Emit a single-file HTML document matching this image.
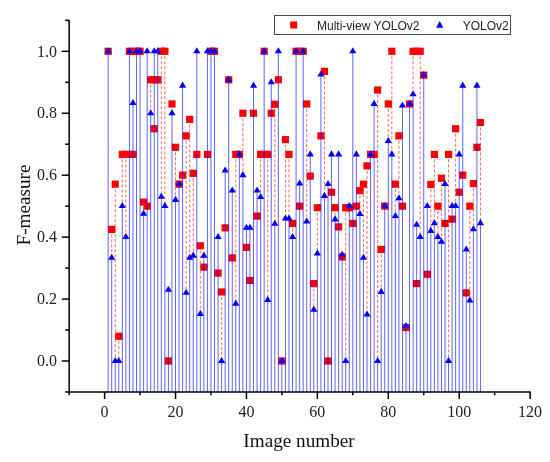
<!DOCTYPE html><html><head><meta charset="utf-8"><title>F-measure</title><style>html,body{margin:0;padding:0;background:#fff}svg{display:block}</style></head><body><svg width="550" height="462" viewBox="0 0 550 462">
<rect width="550" height="462" fill="#fff"/>
<g stroke="#ff0000" stroke-width="0.6" stroke-dasharray="3 2" fill="none">
<path d="M111.69 229.38V257.77"/>
<path d="M115.24 184.16V361.00"/>
<path d="M118.78 336.22V361.00"/>
<path d="M122.33 154.43V206.05"/>
<path d="M125.88 154.43V237.02"/>
<path d="M143.61 202.12V213.79"/>
<path d="M150.70 79.79V113.14"/>
<path d="M161.34 51.30V196.76"/>
<path d="M164.88 51.30V206.05"/>
<path d="M171.97 103.95V113.14"/>
<path d="M175.52 147.31V199.86"/>
<path d="M186.16 135.85V292.77"/>
<path d="M189.70 119.43V257.77"/>
<path d="M193.25 173.32V255.60"/>
<path d="M200.34 245.79V313.83"/>
<path d="M221.62 291.94V361.00"/>
<path d="M235.80 154.43V303.61"/>
<path d="M242.89 113.24V175.08"/>
<path d="M260.62 154.43V197.07"/>
<path d="M267.72 154.43V299.89"/>
<path d="M274.81 104.26V223.70"/>
<path d="M285.45 139.56V218.44"/>
<path d="M288.99 154.43V218.44"/>
<path d="M292.54 223.49V237.02"/>
<path d="M306.72 103.95V221.53"/>
<path d="M313.81 283.57V309.80"/>
<path d="M317.36 207.70V253.43"/>
<path d="M324.45 71.43V195.83"/>
<path d="M335.09 207.70V219.37"/>
<path d="M345.73 207.70V361.00"/>
<path d="M359.91 190.66V213.95"/>
<path d="M363.46 184.16V257.77"/>
<path d="M367.00 165.89V314.44"/>
<path d="M377.64 90.01V361.00"/>
<path d="M381.19 249.51V291.84"/>
<path d="M388.28 103.95V141.01"/>
<path d="M391.83 51.30V154.33"/>
<path d="M395.37 184.16V215.96"/>
<path d="M398.92 135.85V198.31"/>
<path d="M413.10 51.30V94.25"/>
<path d="M420.19 51.30V237.02"/>
<path d="M430.83 184.47V230.83"/>
<path d="M434.38 154.43V223.08"/>
<path d="M437.92 206.15V237.02"/>
<path d="M441.47 178.28V241.67"/>
<path d="M448.56 154.43V361.00"/>
<path d="M455.65 128.73V206.05"/>
<path d="M469.84 206.15V300.51"/>
<path d="M473.38 183.54V229.28"/>
<path d="M480.48 122.53V223.08"/>
</g>
<g fill="#ff0000">
<rect x="104.55" y="47.70" width="7.2" height="7.2"/>
<rect x="108.09" y="225.78" width="7.2" height="7.2"/>
<rect x="111.64" y="180.56" width="7.2" height="7.2"/>
<rect x="115.18" y="332.62" width="7.2" height="7.2"/>
<rect x="118.73" y="150.83" width="7.2" height="7.2"/>
<rect x="122.28" y="150.83" width="7.2" height="7.2"/>
<rect x="125.82" y="47.70" width="7.2" height="7.2"/>
<rect x="129.37" y="150.83" width="7.2" height="7.2"/>
<rect x="132.91" y="47.70" width="7.2" height="7.2"/>
<rect x="136.46" y="47.70" width="7.2" height="7.2"/>
<rect x="140.01" y="198.52" width="7.2" height="7.2"/>
<rect x="143.55" y="202.55" width="7.2" height="7.2"/>
<rect x="147.10" y="76.19" width="7.2" height="7.2"/>
<rect x="150.64" y="125.13" width="7.2" height="7.2"/>
<rect x="154.19" y="76.19" width="7.2" height="7.2"/>
<rect x="157.74" y="47.70" width="7.2" height="7.2"/>
<rect x="161.28" y="47.70" width="7.2" height="7.2"/>
<rect x="164.83" y="357.40" width="7.2" height="7.2"/>
<rect x="168.37" y="100.35" width="7.2" height="7.2"/>
<rect x="171.92" y="143.71" width="7.2" height="7.2"/>
<rect x="175.47" y="180.56" width="7.2" height="7.2"/>
<rect x="179.01" y="171.58" width="7.2" height="7.2"/>
<rect x="182.56" y="132.25" width="7.2" height="7.2"/>
<rect x="186.10" y="115.83" width="7.2" height="7.2"/>
<rect x="189.65" y="169.72" width="7.2" height="7.2"/>
<rect x="193.20" y="150.83" width="7.2" height="7.2"/>
<rect x="196.74" y="242.19" width="7.2" height="7.2"/>
<rect x="200.29" y="263.56" width="7.2" height="7.2"/>
<rect x="203.83" y="150.83" width="7.2" height="7.2"/>
<rect x="207.38" y="47.70" width="7.2" height="7.2"/>
<rect x="210.93" y="47.70" width="7.2" height="7.2"/>
<rect x="214.47" y="269.45" width="7.2" height="7.2"/>
<rect x="218.02" y="288.34" width="7.2" height="7.2"/>
<rect x="221.56" y="224.23" width="7.2" height="7.2"/>
<rect x="225.11" y="76.19" width="7.2" height="7.2"/>
<rect x="228.66" y="254.27" width="7.2" height="7.2"/>
<rect x="232.20" y="150.83" width="7.2" height="7.2"/>
<rect x="235.75" y="150.83" width="7.2" height="7.2"/>
<rect x="239.29" y="109.64" width="7.2" height="7.2"/>
<rect x="242.84" y="243.74" width="7.2" height="7.2"/>
<rect x="246.39" y="276.88" width="7.2" height="7.2"/>
<rect x="249.93" y="109.64" width="7.2" height="7.2"/>
<rect x="253.48" y="212.46" width="7.2" height="7.2"/>
<rect x="257.02" y="150.83" width="7.2" height="7.2"/>
<rect x="260.57" y="47.70" width="7.2" height="7.2"/>
<rect x="264.12" y="150.83" width="7.2" height="7.2"/>
<rect x="267.66" y="109.64" width="7.2" height="7.2"/>
<rect x="271.21" y="100.66" width="7.2" height="7.2"/>
<rect x="274.75" y="76.19" width="7.2" height="7.2"/>
<rect x="278.30" y="357.40" width="7.2" height="7.2"/>
<rect x="281.85" y="135.96" width="7.2" height="7.2"/>
<rect x="285.39" y="150.83" width="7.2" height="7.2"/>
<rect x="288.94" y="219.89" width="7.2" height="7.2"/>
<rect x="292.48" y="47.70" width="7.2" height="7.2"/>
<rect x="296.03" y="202.55" width="7.2" height="7.2"/>
<rect x="299.58" y="47.70" width="7.2" height="7.2"/>
<rect x="303.12" y="100.35" width="7.2" height="7.2"/>
<rect x="306.67" y="172.51" width="7.2" height="7.2"/>
<rect x="310.21" y="279.97" width="7.2" height="7.2"/>
<rect x="313.76" y="204.10" width="7.2" height="7.2"/>
<rect x="317.31" y="132.25" width="7.2" height="7.2"/>
<rect x="320.85" y="67.83" width="7.2" height="7.2"/>
<rect x="324.40" y="357.40" width="7.2" height="7.2"/>
<rect x="327.94" y="188.61" width="7.2" height="7.2"/>
<rect x="331.49" y="204.10" width="7.2" height="7.2"/>
<rect x="335.04" y="223.30" width="7.2" height="7.2"/>
<rect x="338.58" y="253.34" width="7.2" height="7.2"/>
<rect x="342.13" y="204.10" width="7.2" height="7.2"/>
<rect x="345.67" y="204.10" width="7.2" height="7.2"/>
<rect x="349.22" y="219.89" width="7.2" height="7.2"/>
<rect x="352.77" y="202.55" width="7.2" height="7.2"/>
<rect x="356.31" y="187.06" width="7.2" height="7.2"/>
<rect x="359.86" y="180.56" width="7.2" height="7.2"/>
<rect x="363.40" y="162.29" width="7.2" height="7.2"/>
<rect x="366.95" y="150.83" width="7.2" height="7.2"/>
<rect x="370.50" y="150.83" width="7.2" height="7.2"/>
<rect x="374.04" y="86.41" width="7.2" height="7.2"/>
<rect x="377.59" y="245.91" width="7.2" height="7.2"/>
<rect x="381.13" y="202.55" width="7.2" height="7.2"/>
<rect x="384.68" y="100.35" width="7.2" height="7.2"/>
<rect x="388.23" y="47.70" width="7.2" height="7.2"/>
<rect x="391.77" y="180.56" width="7.2" height="7.2"/>
<rect x="395.32" y="132.25" width="7.2" height="7.2"/>
<rect x="398.86" y="202.55" width="7.2" height="7.2"/>
<rect x="402.41" y="323.95" width="7.2" height="7.2"/>
<rect x="405.96" y="100.35" width="7.2" height="7.2"/>
<rect x="409.50" y="47.70" width="7.2" height="7.2"/>
<rect x="413.05" y="279.97" width="7.2" height="7.2"/>
<rect x="416.59" y="47.70" width="7.2" height="7.2"/>
<rect x="420.14" y="71.55" width="7.2" height="7.2"/>
<rect x="423.69" y="270.68" width="7.2" height="7.2"/>
<rect x="427.23" y="180.87" width="7.2" height="7.2"/>
<rect x="430.78" y="150.83" width="7.2" height="7.2"/>
<rect x="434.32" y="202.55" width="7.2" height="7.2"/>
<rect x="437.87" y="174.68" width="7.2" height="7.2"/>
<rect x="441.42" y="219.89" width="7.2" height="7.2"/>
<rect x="444.96" y="150.83" width="7.2" height="7.2"/>
<rect x="448.51" y="215.56" width="7.2" height="7.2"/>
<rect x="452.05" y="125.13" width="7.2" height="7.2"/>
<rect x="455.60" y="188.61" width="7.2" height="7.2"/>
<rect x="459.15" y="171.58" width="7.2" height="7.2"/>
<rect x="462.69" y="289.27" width="7.2" height="7.2"/>
<rect x="466.24" y="202.55" width="7.2" height="7.2"/>
<rect x="469.78" y="179.94" width="7.2" height="7.2"/>
<rect x="473.33" y="143.71" width="7.2" height="7.2"/>
<rect x="476.88" y="118.93" width="7.2" height="7.2"/>
<rect x="122.33" y="150.83" width="3.55" height="7.2"/>
<rect x="125.88" y="150.83" width="7.09" height="7.2"/>
<rect x="129.42" y="47.70" width="7.09" height="7.2"/>
<rect x="136.51" y="47.70" width="3.55" height="7.2"/>
<rect x="150.70" y="76.19" width="7.09" height="7.2"/>
<rect x="161.34" y="47.70" width="3.55" height="7.2"/>
<rect x="210.98" y="47.70" width="3.55" height="7.2"/>
<rect x="235.80" y="150.83" width="3.55" height="7.2"/>
<rect x="260.62" y="150.83" width="7.09" height="7.2"/>
<rect x="296.08" y="47.70" width="7.09" height="7.2"/>
<rect x="345.73" y="204.10" width="3.55" height="7.2"/>
<rect x="370.55" y="150.83" width="3.55" height="7.2"/>
<rect x="413.10" y="47.70" width="7.09" height="7.2"/>
</g>
<g stroke="#0000ff" stroke-width="0.62" fill="none">
<path d="M108.15 51.30V391.97"/>
<path d="M111.69 257.77V391.97"/>
<path d="M115.24 361.00V391.97"/>
<path d="M118.78 361.00V391.97"/>
<path d="M122.33 206.05V391.97"/>
<path d="M125.88 237.02V391.97"/>
<path d="M129.42 51.30V391.97"/>
<path d="M132.97 102.92V391.97"/>
<path d="M136.51 51.30V391.97"/>
<path d="M140.06 51.30V391.97"/>
<path d="M143.61 213.79V391.97"/>
<path d="M147.15 51.30V391.97"/>
<path d="M150.70 113.14V391.97"/>
<path d="M154.24 51.30V391.97"/>
<path d="M157.79 51.30V391.97"/>
<path d="M161.34 196.76V391.97"/>
<path d="M164.88 206.05V391.97"/>
<path d="M168.43 289.67V391.97"/>
<path d="M171.97 113.14V391.97"/>
<path d="M175.52 199.86V391.97"/>
<path d="M179.07 184.06V391.97"/>
<path d="M182.61 85.58V391.97"/>
<path d="M186.16 292.77V391.97"/>
<path d="M189.70 257.77V391.97"/>
<path d="M193.25 255.60V391.97"/>
<path d="M196.80 51.30V391.97"/>
<path d="M200.34 313.83V391.97"/>
<path d="M203.89 255.60V391.97"/>
<path d="M207.43 51.30V391.97"/>
<path d="M210.98 51.30V391.97"/>
<path d="M214.53 51.30V391.97"/>
<path d="M218.07 237.02V391.97"/>
<path d="M221.62 361.00V391.97"/>
<path d="M225.16 170.43V391.97"/>
<path d="M228.71 79.69V391.97"/>
<path d="M232.26 190.56V391.97"/>
<path d="M235.80 303.61V391.97"/>
<path d="M239.35 154.33V391.97"/>
<path d="M242.89 175.08V391.97"/>
<path d="M246.44 227.73V391.97"/>
<path d="M249.99 227.73V391.97"/>
<path d="M253.53 85.58V391.97"/>
<path d="M257.08 190.56V391.97"/>
<path d="M260.62 197.07V391.97"/>
<path d="M264.17 51.30V391.97"/>
<path d="M267.72 299.89V391.97"/>
<path d="M271.26 82.17V391.97"/>
<path d="M274.81 223.70V391.97"/>
<path d="M278.35 51.30V391.97"/>
<path d="M281.90 361.00V391.97"/>
<path d="M285.45 218.44V391.97"/>
<path d="M288.99 218.44V391.97"/>
<path d="M292.54 237.02V391.97"/>
<path d="M296.08 51.30V391.97"/>
<path d="M299.63 183.44V391.97"/>
<path d="M303.18 51.30V391.97"/>
<path d="M306.72 221.53V391.97"/>
<path d="M310.27 154.33V391.97"/>
<path d="M313.81 309.80V391.97"/>
<path d="M317.36 253.43V391.97"/>
<path d="M320.91 74.43V391.97"/>
<path d="M324.45 195.83V391.97"/>
<path d="M328.00 184.06V391.97"/>
<path d="M331.54 154.33V391.97"/>
<path d="M335.09 219.37V391.97"/>
<path d="M338.64 154.33V391.97"/>
<path d="M342.18 254.67V391.97"/>
<path d="M345.73 361.00V391.97"/>
<path d="M349.27 206.05V391.97"/>
<path d="M352.82 51.30V391.97"/>
<path d="M356.37 154.33V391.97"/>
<path d="M359.91 213.95V391.97"/>
<path d="M363.46 257.77V391.97"/>
<path d="M367.00 314.44V391.97"/>
<path d="M370.55 154.33V391.97"/>
<path d="M374.10 103.85V391.97"/>
<path d="M377.64 361.00V391.97"/>
<path d="M381.19 291.84V391.97"/>
<path d="M384.73 206.05V391.97"/>
<path d="M388.28 141.01V391.97"/>
<path d="M391.83 154.33V391.97"/>
<path d="M395.37 215.96V391.97"/>
<path d="M398.92 198.31V391.97"/>
<path d="M402.46 105.40V391.97"/>
<path d="M406.01 325.90V391.97"/>
<path d="M409.56 103.85V391.97"/>
<path d="M413.10 94.25V391.97"/>
<path d="M416.65 224.63V391.97"/>
<path d="M420.19 237.02V391.97"/>
<path d="M423.74 75.05V391.97"/>
<path d="M427.29 206.05V391.97"/>
<path d="M430.83 230.83V391.97"/>
<path d="M434.38 223.08V391.97"/>
<path d="M437.92 237.02V391.97"/>
<path d="M441.47 241.67V391.97"/>
<path d="M445.02 184.06V391.97"/>
<path d="M448.56 361.00V391.97"/>
<path d="M452.11 206.05V391.97"/>
<path d="M455.65 206.05V391.97"/>
<path d="M459.20 154.33V391.97"/>
<path d="M462.75 85.58V391.97"/>
<path d="M466.29 249.41V391.97"/>
<path d="M469.84 300.51V391.97"/>
<path d="M473.38 229.28V391.97"/>
<path d="M476.93 85.58V391.97"/>
<path d="M480.48 223.08V391.97"/>
</g>
<g fill="#0000ff">
<path d="M108.15 47.30L111.75 53.35H104.55Z"/>
<path d="M111.69 253.77L115.29 259.82H108.09Z"/>
<path d="M115.24 357.00L118.84 363.05H111.64Z"/>
<path d="M118.78 357.00L122.38 363.05H115.18Z"/>
<path d="M122.33 202.05L125.93 208.10H118.73Z"/>
<path d="M125.88 233.02L129.48 239.07H122.28Z"/>
<path d="M129.42 47.30L133.02 53.35H125.82Z"/>
<path d="M132.97 98.92L136.57 104.97H129.37Z"/>
<path d="M136.51 47.30L140.11 53.35H132.91Z"/>
<path d="M140.06 47.30L143.66 53.35H136.46Z"/>
<path d="M143.61 209.79L147.21 215.84H140.01Z"/>
<path d="M147.15 47.30L150.75 53.35H143.55Z"/>
<path d="M150.70 109.14L154.30 115.19H147.10Z"/>
<path d="M154.24 47.30L157.84 53.35H150.64Z"/>
<path d="M157.79 47.30L161.39 53.35H154.19Z"/>
<path d="M161.34 192.76L164.94 198.81H157.74Z"/>
<path d="M164.88 202.05L168.48 208.10H161.28Z"/>
<path d="M168.43 285.67L172.03 291.72H164.83Z"/>
<path d="M171.97 109.14L175.57 115.19H168.37Z"/>
<path d="M175.52 195.86L179.12 201.91H171.92Z"/>
<path d="M179.07 180.06L182.67 186.11H175.47Z"/>
<path d="M182.61 81.58L186.21 87.63H179.01Z"/>
<path d="M186.16 288.77L189.76 294.82H182.56Z"/>
<path d="M189.70 253.77L193.30 259.82H186.10Z"/>
<path d="M193.25 251.60L196.85 257.65H189.65Z"/>
<path d="M196.80 47.30L200.40 53.35H193.20Z"/>
<path d="M200.34 309.83L203.94 315.88H196.74Z"/>
<path d="M203.89 251.60L207.49 257.65H200.29Z"/>
<path d="M207.43 47.30L211.03 53.35H203.83Z"/>
<path d="M210.98 47.30L214.58 53.35H207.38Z"/>
<path d="M214.53 47.30L218.13 53.35H210.93Z"/>
<path d="M218.07 233.02L221.67 239.07H214.47Z"/>
<path d="M221.62 357.00L225.22 363.05H218.02Z"/>
<path d="M225.16 166.43L228.76 172.48H221.56Z"/>
<path d="M228.71 75.69L232.31 81.74H225.11Z"/>
<path d="M232.26 186.56L235.86 192.62H228.66Z"/>
<path d="M235.80 299.61L239.40 305.66H232.20Z"/>
<path d="M239.35 150.33L242.95 156.38H235.75Z"/>
<path d="M242.89 171.08L246.49 177.13H239.29Z"/>
<path d="M246.44 223.73L250.04 229.78H242.84Z"/>
<path d="M249.99 223.73L253.59 229.78H246.39Z"/>
<path d="M253.53 81.58L257.13 87.63H249.93Z"/>
<path d="M257.08 186.56L260.68 192.62H253.48Z"/>
<path d="M260.62 193.07L264.22 199.12H257.02Z"/>
<path d="M264.17 47.30L267.77 53.35H260.57Z"/>
<path d="M267.72 295.89L271.32 301.94H264.12Z"/>
<path d="M271.26 78.17L274.86 84.22H267.66Z"/>
<path d="M274.81 219.70L278.41 225.75H271.21Z"/>
<path d="M278.35 47.30L281.95 53.35H274.75Z"/>
<path d="M281.90 357.00L285.50 363.05H278.30Z"/>
<path d="M285.45 214.44L289.05 220.49H281.85Z"/>
<path d="M288.99 214.44L292.59 220.49H285.39Z"/>
<path d="M292.54 233.02L296.14 239.07H288.94Z"/>
<path d="M296.08 47.30L299.68 53.35H292.48Z"/>
<path d="M299.63 179.44L303.23 185.49H296.03Z"/>
<path d="M303.18 47.30L306.78 53.35H299.58Z"/>
<path d="M306.72 217.53L310.32 223.59H303.12Z"/>
<path d="M310.27 150.33L313.87 156.38H306.67Z"/>
<path d="M313.81 305.80L317.41 311.85H310.21Z"/>
<path d="M317.36 249.43L320.96 255.48H313.76Z"/>
<path d="M320.91 70.43L324.51 76.48H317.31Z"/>
<path d="M324.45 191.83L328.05 197.88H320.85Z"/>
<path d="M328.00 180.06L331.60 186.11H324.40Z"/>
<path d="M331.54 150.33L335.14 156.38H327.94Z"/>
<path d="M335.09 215.37L338.69 221.42H331.49Z"/>
<path d="M338.64 150.33L342.24 156.38H335.04Z"/>
<path d="M342.18 250.67L345.78 256.72H338.58Z"/>
<path d="M345.73 357.00L349.33 363.05H342.13Z"/>
<path d="M349.27 202.05L352.87 208.10H345.67Z"/>
<path d="M352.82 47.30L356.42 53.35H349.22Z"/>
<path d="M356.37 150.33L359.97 156.38H352.77Z"/>
<path d="M359.91 209.95L363.51 216.00H356.31Z"/>
<path d="M363.46 253.77L367.06 259.82H359.86Z"/>
<path d="M367.00 310.44L370.60 316.50H363.40Z"/>
<path d="M370.55 150.33L374.15 156.38H366.95Z"/>
<path d="M374.10 99.85L377.70 105.90H370.50Z"/>
<path d="M377.64 357.00L381.24 363.05H374.04Z"/>
<path d="M381.19 287.84L384.79 293.89H377.59Z"/>
<path d="M384.73 202.05L388.33 208.10H381.13Z"/>
<path d="M388.28 137.01L391.88 143.06H384.68Z"/>
<path d="M391.83 150.33L395.43 156.38H388.23Z"/>
<path d="M395.37 211.96L398.97 218.01H391.77Z"/>
<path d="M398.92 194.31L402.52 200.36H395.32Z"/>
<path d="M402.46 101.40L406.06 107.45H398.86Z"/>
<path d="M406.01 321.90L409.61 327.95H402.41Z"/>
<path d="M409.56 99.85L413.16 105.90H405.96Z"/>
<path d="M413.10 90.25L416.70 96.30H409.50Z"/>
<path d="M416.65 220.63L420.25 226.68H413.05Z"/>
<path d="M420.19 233.02L423.79 239.07H416.59Z"/>
<path d="M423.74 71.05L427.34 77.10H420.14Z"/>
<path d="M427.29 202.05L430.89 208.10H423.69Z"/>
<path d="M430.83 226.83L434.43 232.88H427.23Z"/>
<path d="M434.38 219.08L437.98 225.13H430.78Z"/>
<path d="M437.92 233.02L441.52 239.07H434.32Z"/>
<path d="M441.47 237.67L445.07 243.72H437.87Z"/>
<path d="M445.02 180.06L448.62 186.11H441.42Z"/>
<path d="M448.56 357.00L452.16 363.05H444.96Z"/>
<path d="M452.11 202.05L455.71 208.10H448.51Z"/>
<path d="M455.65 202.05L459.25 208.10H452.05Z"/>
<path d="M459.20 150.33L462.80 156.38H455.60Z"/>
<path d="M462.75 81.58L466.35 87.63H459.15Z"/>
<path d="M466.29 245.41L469.89 251.46H462.69Z"/>
<path d="M469.84 296.51L473.44 302.56H466.24Z"/>
<path d="M473.38 225.28L476.98 231.33H469.78Z"/>
<path d="M476.93 81.58L480.53 87.63H473.33Z"/>
<path d="M480.48 219.08L484.08 225.13H476.88Z"/>
</g>
<g stroke="#000" stroke-width="1.5" fill="none">
<path d="M69.14 19.63V392.67"/>
<path d="M68.44 391.97H530.82"/>
<path d="M65.14 391.97H69.14"/>
<path d="M61.74 361.00H69.14"/>
<path d="M65.14 330.03H69.14"/>
<path d="M61.74 299.06H69.14"/>
<path d="M65.14 268.09H69.14"/>
<path d="M61.74 237.12H69.14"/>
<path d="M65.14 206.15H69.14"/>
<path d="M61.74 175.18H69.14"/>
<path d="M65.14 144.21H69.14"/>
<path d="M61.74 113.24H69.14"/>
<path d="M65.14 82.27H69.14"/>
<path d="M61.74 51.30H69.14"/>
<path d="M65.14 20.33H69.14"/>
<path d="M69.14 391.97V395.27"/>
<path d="M104.60 391.97V398.97"/>
<path d="M140.06 391.97V395.27"/>
<path d="M175.52 391.97V398.97"/>
<path d="M210.98 391.97V395.27"/>
<path d="M246.44 391.97V398.97"/>
<path d="M281.90 391.97V395.27"/>
<path d="M317.36 391.97V398.97"/>
<path d="M352.82 391.97V395.27"/>
<path d="M388.28 391.97V398.97"/>
<path d="M423.74 391.97V395.27"/>
<path d="M459.20 391.97V398.97"/>
<path d="M494.66 391.97V395.27"/>
<path d="M530.12 391.97V398.97"/>
</g>
<g font-family="'Liberation Serif', serif" font-size="16" fill="#222">
<text x="57" y="366.20" text-anchor="end">0.0</text>
<text x="57" y="304.26" text-anchor="end">0.2</text>
<text x="57" y="242.32" text-anchor="end">0.4</text>
<text x="57" y="180.38" text-anchor="end">0.6</text>
<text x="57" y="118.44" text-anchor="end">0.8</text>
<text x="57" y="56.50" text-anchor="end">1.0</text>
<text x="104.60" y="416.7" text-anchor="middle">0</text>
<text x="175.52" y="416.7" text-anchor="middle">20</text>
<text x="246.44" y="416.7" text-anchor="middle">40</text>
<text x="317.36" y="416.7" text-anchor="middle">60</text>
<text x="388.28" y="416.7" text-anchor="middle">80</text>
<text x="459.20" y="416.7" text-anchor="middle">100</text>
<text x="530.12" y="416.7" text-anchor="middle">120</text>
</g>
<g font-family="'Liberation Serif', serif" font-size="19.2" fill="#111">
<text x="299" y="447" text-anchor="middle">Image number</text>
<text transform="translate(30.3 205) rotate(-90)" text-anchor="middle">F-measure</text>
</g>
<rect x="274.5" y="15.5" width="236" height="19" fill="#fff" stroke="#4a4a4a" stroke-width="1"/>
<rect x="290.2" y="21.5" width="7" height="7" fill="#ff0000"/>
<path d="M439.7 21.1L443.3 27.7H436.1Z" fill="#0000ff"/>
<g font-family="'Liberation Sans', sans-serif" font-size="12" fill="#222">
<text x="317" y="30.4">Multi-view YOLOv2</text>
<text x="462.7" y="30.4">YOLOv2</text>
</g>
</svg></body></html>
